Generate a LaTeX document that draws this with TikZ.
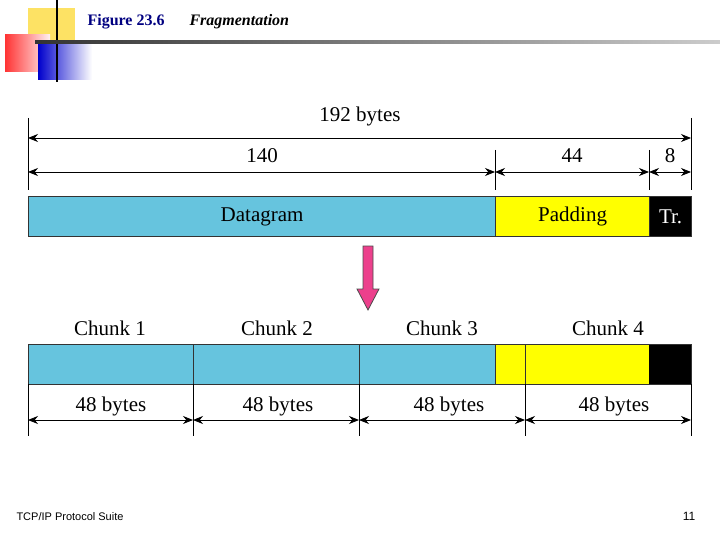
\documentclass[tikz,border=0pt]{standalone}
\usepackage{fontspec}
\setmainfont{Liberation Serif}
\newfontfamily\footfont{Liberation Sans}
\usetikzlibrary{arrows.meta}
\definecolor{dblue}{RGB}{102,196,222}
\definecolor{dyel}{RGB}{255,255,0}
\definecolor{pinkc}{RGB}{236,64,140}
\begin{document}
\begin{tikzpicture}[x=1pt,y=-1pt,
  dim/.style={{Stealth[length=10pt,width=8pt]}-{Stealth[length=10pt,width=8pt]},line width=0.9pt},
  tick/.style={line width=0.9pt},
  lbl/.style={font=\fontsize{21}{21}\selectfont},
  seg/.style={draw=black!80,line width=1.2pt}]
\useasboundingbox (0,0) rectangle (720,540);
% logo
\fill[yellow!70!orange!60] (28,8) rectangle (75,45);
\shade[left color=red!80, right color=red!5] (5,35) rectangle (50,72);
\shade[left color=blue!80!black, right color=white] (38,45) rectangle (92,80);
\draw[line width=2pt] (57,0) -- (57,82);
\shade[left color=black!80, right color=black!20] (35,41) rectangle (720,44);
\node[anchor=west,text=blue!50!black,font=\bfseries\fontsize{16}{16}\selectfont] (ft) at (84,22) {Figure 23.6};
\node[anchor=west,font=\bfseries\itshape\fontsize{16}{16}\selectfont] (fn) at (186,22) {Fragmentation};
% top bar
\node[seg,fill=dblue,minimum width=467pt,minimum height=40pt,anchor=north west,inner sep=0] (dg) at (28,196) {};
\node[seg,fill=dyel,minimum width=154pt,minimum height=40pt,anchor=north west,inner sep=0] (pd) at (495,196) {};
\node[seg,fill=black,minimum width=42pt,minimum height=40pt,anchor=north west,inner sep=0] (tr) at (649,196) {};
\node[lbl] at (dg.center) {Datagram};
\node[lbl] at (pd.center) {Padding};
\node[lbl,text=white] at (tr.center) {Tr.};
% ticks
\coordinate (t1a) at (28,118); \coordinate (t1b) at (28,190);
\coordinate (t2a) at (691,118); \coordinate (t2b) at (691,190);
\coordinate (t3a) at (495,150); \coordinate (t3b) at (495,190);
\coordinate (t4a) at (649,150); \coordinate (t4b) at (649,190);
\draw[tick] (t1a)--(t1b); \draw[tick] (t2a)--(t2b); \draw[tick] (t3a)--(t3b); \draw[tick] (t4a)--(t4b);
\coordinate (a1) at (28,138); \coordinate (a2) at (691,138);
\draw[dim] (a1)--(a2);
\node[lbl] at (360,116) {192 bytes};
\coordinate (b1) at (28,172); \coordinate (b2) at (495,172);
\coordinate (b3) at (649,172); \coordinate (b4) at (691,172);
\draw[dim] (b1)--(b2); \draw[dim] (b2)--(b3); \draw[dim] (b3)--(b4);
\node[lbl] at (262,156) {140};
\node[lbl] at (572,156) {44};
\node[lbl] at (670,156) {8};
% pink arrow
\draw[fill=pinkc,draw=black!70,line width=0.8pt] (363,246) -- (373,246) -- (373,289) -- (379,289) -- (368,310) -- (357,289) -- (363,289) -- cycle;
% bottom bar
\fill[dblue] (28,344) rectangle (495,384);
\fill[dyel] (495,344) rectangle (649,384);
\fill[black] (649,344) rectangle (691,384);
\foreach \a/\b/\n in {28/193/c1,193/359/c2,359/525/c3,525/691/c4}{
  \node[seg,minimum width={\b-\a},minimum height=40pt,anchor=north west,inner sep=0] (\n) at (\a,344) {};
}
\draw[black!80,line width=0.5pt] (495,344)--(495,384);
\node[lbl] at (110,328) {Chunk 1};
\node[lbl] at (277,328) {Chunk 2};
\node[lbl] at (442,328) {Chunk 3};
\node[lbl] at (608,328) {Chunk 4};
\foreach \x/\n in {28/p0,193/p1,359/p2,525/p3,691/p4}{
  \coordinate (\n) at (\x,420);
  \draw[tick] (\x,384) -- (\x,436);
}
\draw[dim] (p0)--(p1); \draw[dim] (p1)--(p2); \draw[dim] (p2)--(p3); \draw[dim] (p3)--(p4);
\node[lbl] at (111,406) {48 bytes};
\node[lbl] at (278,406) {48 bytes};
\node[lbl] at (449,406) {48 bytes};
\node[lbl] at (614,406) {48 bytes};
% footer
\node[font=\footfont\fontsize{11}{11}\selectfont] at (70,517) {TCP/IP Protocol Suite};
\node[font=\footfont\fontsize{12}{12}\selectfont] at (689,516) {11};
\end{tikzpicture}
\end{document}
